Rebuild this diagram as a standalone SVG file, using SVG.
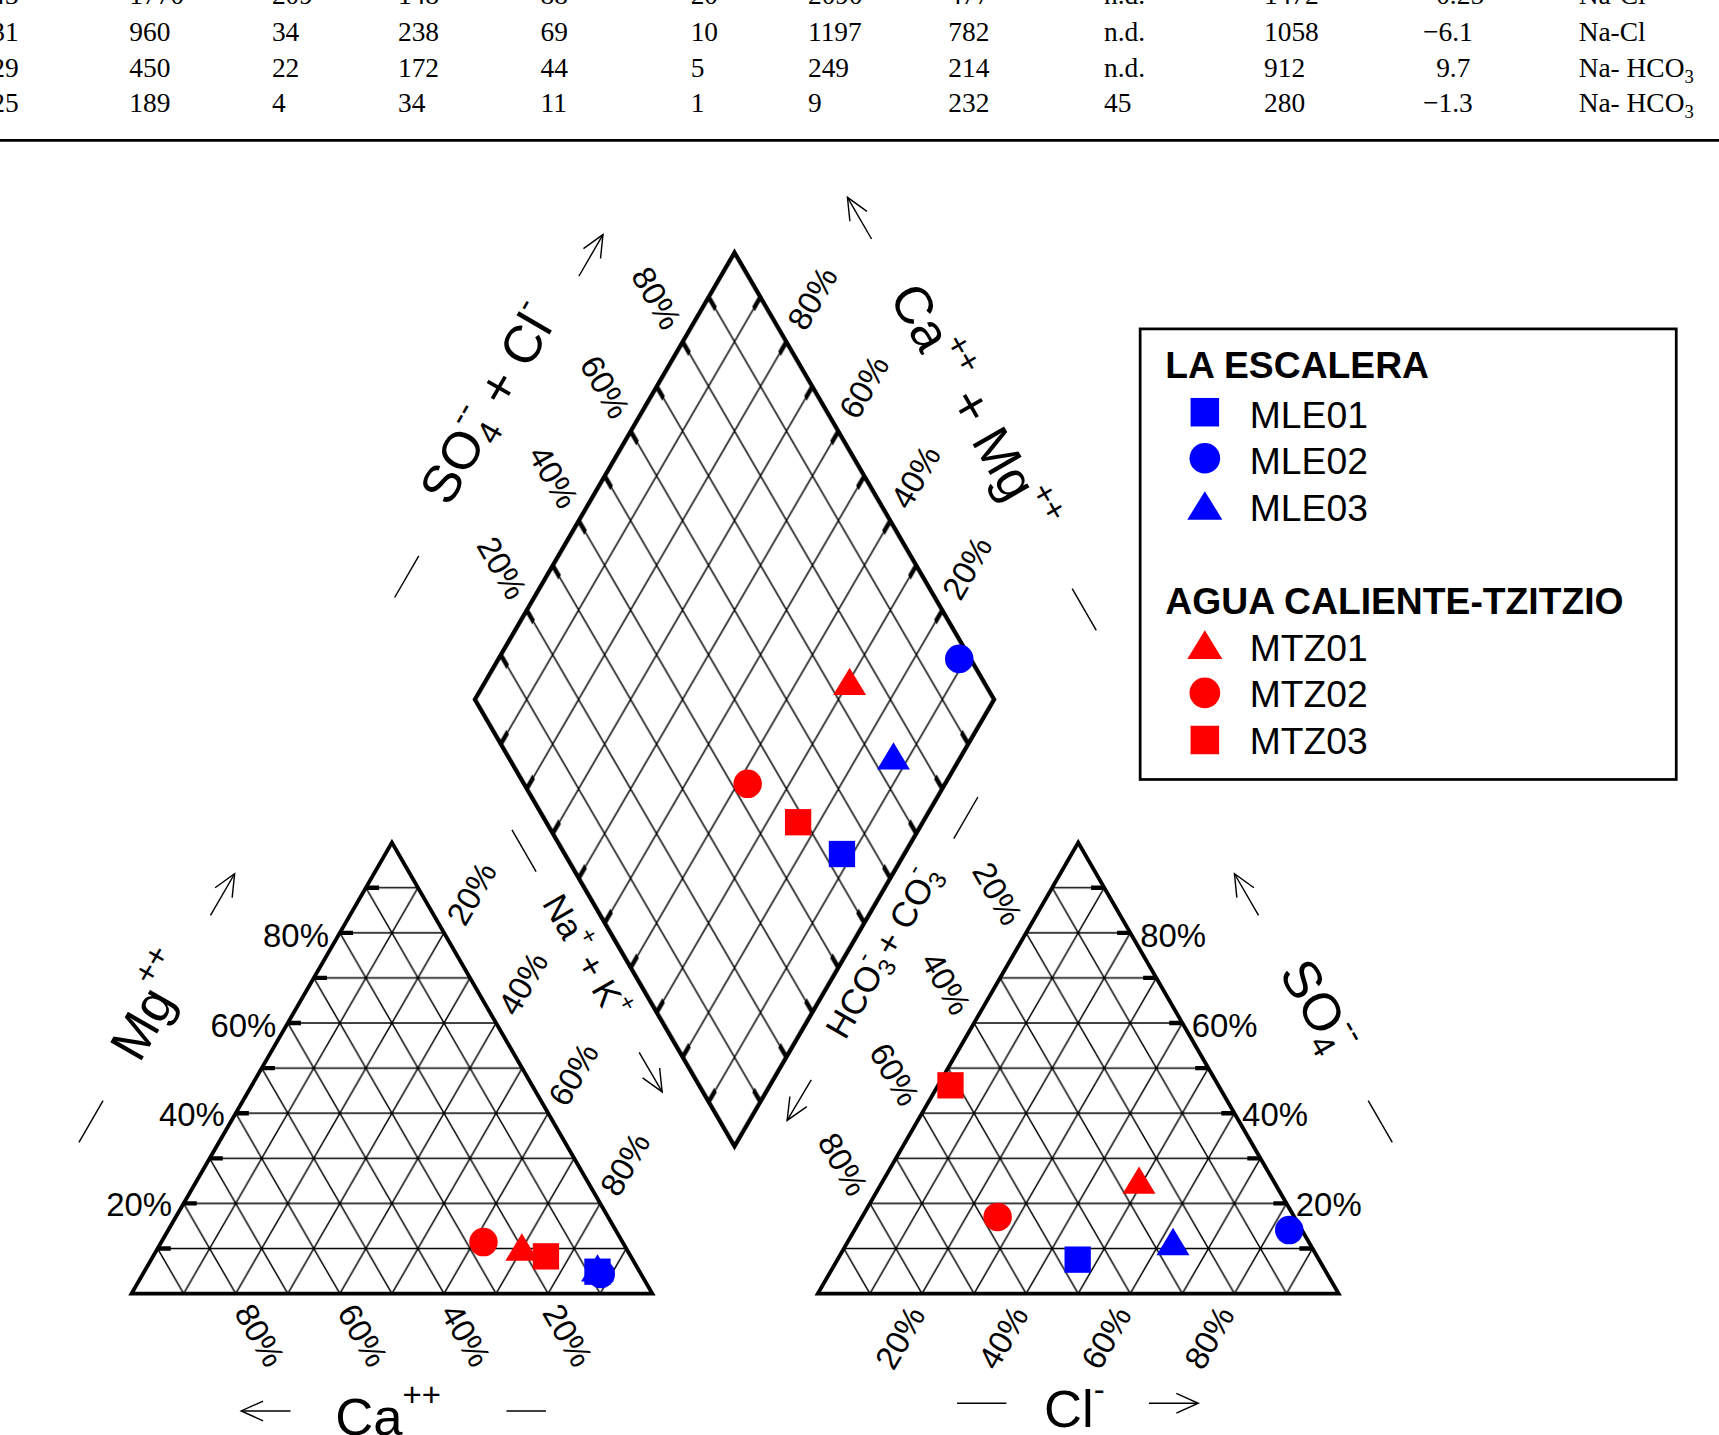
<svg xmlns="http://www.w3.org/2000/svg" width="1719" height="1435" viewBox="0 0 1719 1435">
<style>
.t{font-family:"Liberation Serif",serif;font-size:25px;fill:#000}
.p{font-family:"Liberation Sans",Arial,sans-serif;font-size:30px;fill:#000;text-anchor:middle;dominant-baseline:central}
.big{font-family:"Liberation Sans",Arial,sans-serif;font-size:48px;fill:#000;text-anchor:middle;dominant-baseline:central}
.lg{font-family:"Liberation Sans",Arial,sans-serif;font-size:34px;fill:#000}
.lgb{font-family:"Liberation Sans",Arial,sans-serif;font-size:34px;font-weight:bold;fill:#000}
.out{fill:none;stroke:#000;stroke-width:3.5;stroke-linejoin:miter}
.tk{fill:none;stroke:#000;stroke-width:4}
.b{fill:#0000ff}.r{fill:#ff0000}
</style>
<defs>
<marker id="ah" markerUnits="userSpaceOnUse" markerWidth="30" markerHeight="30" orient="auto" overflow="visible" refX="0" refY="0" viewBox="-25 -15 30 30">
<path d="M-20,-9 L0,0 L-20,9" fill="none" stroke="#000" stroke-width="1.3"/>
</marker>
<pattern id="pL" patternUnits="userSpaceOnUse" x="120" y="1180" width="47.5" height="82.28"><path d="M0,0H47.5M0,41.14H47.5M0,82.28H47.5M0,0L47.5,82.28M0,82.28L47.5,0" stroke="#000" stroke-width="1.3" fill="none"/></pattern>
<pattern id="pR" patternUnits="userSpaceOnUse" x="746" y="1180" width="47.5" height="82.28"><path d="M0,0H47.5M0,41.14H47.5M0,82.28H47.5M0,0L47.5,82.28M0,82.28L47.5,0" stroke="#000" stroke-width="1.3" fill="none"/></pattern>
<pattern id="pD" patternUnits="userSpaceOnUse" x="670" y="230" width="47.4" height="81.6"><path d="M0,0L47.4,81.6M0,81.6L47.4,0" stroke="#000" stroke-width="1.3" fill="none"/></pattern>
<pattern id="pDt" patternUnits="userSpaceOnUse" x="670" y="230" width="47.4" height="81.6"><path d="M0,0L47.4,81.6M0,81.6L47.4,0" stroke="#000" stroke-width="4" fill="none"/></pattern>
<clipPath id="cL"><polygon points="120,1180 595,1180 357.5,768.6"/></clipPath>
<clipPath id="cR"><polygon points="746,1180 1221,1180 983.5,768.6"/></clipPath>
<clipPath id="cD"><polygon points="670,230 907,638 670,1046 433,638"/></clipPath>
<mask id="mD" maskUnits="userSpaceOnUse" x="0" y="0" width="1719" height="1435"><polygon points="670,230 907,638 670,1046 433,638" fill="none" stroke="#fff" stroke-width="22"/></mask>
</defs>
<rect width="1719" height="1435" fill="#fff"/>
<g transform="scale(1.0963)">
<g id="table" class="t">
<text y="4"><tspan x="-8">43</tspan><tspan x="118">1770</tspan><tspan x="248">209</tspan><tspan x="363">148</tspan><tspan x="493">88</tspan><tspan x="630">20</tspan><tspan x="737">2090</tspan><tspan x="865">477</tspan><tspan x="1007">n.d.</tspan><tspan x="1153">1472</tspan><tspan x="1310">0.25</tspan><tspan x="1440">Na-Cl</tspan></text>
<text y="37"><tspan x="-8">31</tspan><tspan x="118">960</tspan><tspan x="248">34</tspan><tspan x="363">238</tspan><tspan x="493">69</tspan><tspan x="630">10</tspan><tspan x="737">1197</tspan><tspan x="865">782</tspan><tspan x="1007">n.d.</tspan><tspan x="1153">1058</tspan><tspan x="1298">−6.1</tspan><tspan x="1440">Na-Cl</tspan></text>
<text y="70"><tspan x="-8">29</tspan><tspan x="118">450</tspan><tspan x="248">22</tspan><tspan x="363">172</tspan><tspan x="493">44</tspan><tspan x="630">5</tspan><tspan x="737">249</tspan><tspan x="865">214</tspan><tspan x="1007">n.d.</tspan><tspan x="1153">912</tspan><tspan x="1310">9.7</tspan><tspan x="1440">Na- HCO</tspan><tspan font-size="17" dy="6">3</tspan></text>
<text y="102"><tspan x="-8">25</tspan><tspan x="118">189</tspan><tspan x="248">4</tspan><tspan x="363">34</tspan><tspan x="493">11</tspan><tspan x="630">1</tspan><tspan x="737">9</tspan><tspan x="865">232</tspan><tspan x="1007">45</tspan><tspan x="1153">280</tspan><tspan x="1298">−1.3</tspan><tspan x="1440">Na- HCO</tspan><tspan font-size="17" dy="6">3</tspan></text>
<line x1="0" y1="128" x2="1568" y2="128" stroke="#000" stroke-width="2.5"/>
</g>
<g id="left-triangle">
<rect x="100" y="750" width="520" height="450" fill="url(#pL)" clip-path="url(#cL)"/>
<path class="tk" d="M143.75,1138.86h12M167.5,1097.72h12M191.25,1056.58h12M215,1015.44h12M238.75,974.3h12M262.5,933.16h12M286.25,892.02h12M310,850.88h12M333.75,809.74h12"/>
<polygon class="out" points="120,1180 595,1180 357.5,768.6"/>
<g class="p" style="text-anchor:end">
<text x="300" y="853">80%</text><text x="252" y="935">60%</text><text x="205" y="1017">40%</text><text x="157" y="1099">20%</text>
</g>
<text class="p" transform="translate(430,815) rotate(-60)">20%</text>
<text class="p" transform="translate(477,897) rotate(-60)">40%</text>
<text class="p" transform="translate(523,980) rotate(-60)">60%</text>
<text class="p" transform="translate(570,1062) rotate(-60)">80%</text>
<text class="p" transform="translate(237,1218) rotate(60)">80%</text>
<text class="p" transform="translate(331,1218) rotate(60)">60%</text>
<text class="p" transform="translate(425,1218) rotate(60)">40%</text>
<text class="p" transform="translate(518,1218) rotate(60)">20%</text>
<text class="big" x="354" y="1292">Ca<tspan font-size="30" dy="-20">++</tspan></text>
<text class="big" transform="translate(138,918) rotate(-60)">Mg<tspan font-size="30" dy="-20">++</tspan></text>
</g>
<g id="right-triangle">
<rect x="726" y="750" width="520" height="450" fill="url(#pR)" clip-path="url(#cR)"/>
<path class="tk" d="M1197.25,1138.86h-12M1173.5,1097.72h-12M1149.75,1056.58h-12M1126,1015.44h-12M1102.25,974.3h-12M1078.5,933.16h-12M1054.75,892.02h-12M1031,850.88h-12M1007.25,809.74h-12"/>
<polygon class="out" points="746,1180 1221,1180 983.5,768.6"/>
<g class="p" style="text-anchor:start">
<text x="1040" y="853">80%</text><text x="1087" y="935">60%</text><text x="1133" y="1017">40%</text><text x="1182" y="1099">20%</text>
</g>
<text class="p" transform="translate(910,815) rotate(60)">20%</text>
<text class="p" transform="translate(863,897) rotate(60)">40%</text>
<text class="p" transform="translate(816,980) rotate(60)">60%</text>
<text class="p" transform="translate(769,1062) rotate(60)">80%</text>
<text class="p" transform="translate(821,1220) rotate(-60)">20%</text>
<text class="p" transform="translate(915,1220) rotate(-60)">40%</text>
<text class="p" transform="translate(1009,1220) rotate(-60)">60%</text>
<text class="p" transform="translate(1103,1220) rotate(-60)">80%</text>
<text class="big" x="980" y="1285">Cl<tspan font-size="30" dy="-18">-</tspan></text>
<text class="big" transform="translate(1203,918) rotate(60)">SO<tspan font-size="30" dy="14">4</tspan><tspan font-size="30" dx="-16" dy="-32">--</tspan></text>
</g>
<g id="diamond">
<rect x="420" y="220" width="500" height="840" fill="url(#pD)" clip-path="url(#cD)"/>
<rect x="420" y="220" width="500" height="840" fill="url(#pDt)" clip-path="url(#cD)" mask="url(#mD)"/>
<polygon class="out" points="670,230 907,638 670,1046 433,638"/>
<text class="p" transform="translate(599,272) rotate(60)">80%</text>
<text class="p" transform="translate(552,353) rotate(60)">60%</text>
<text class="p" transform="translate(505,435) rotate(60)">40%</text>
<text class="p" transform="translate(458,518) rotate(60)">20%</text>
<text class="p" transform="translate(741,272) rotate(-60)">80%</text>
<text class="p" transform="translate(788,353) rotate(-60)">60%</text>
<text class="p" transform="translate(835,435) rotate(-60)">40%</text>
<text class="p" transform="translate(882,518) rotate(-60)">20%</text>
<text class="big" transform="translate(445,368) rotate(-60)">SO<tspan font-size="30" dy="14">4</tspan><tspan font-size="30" dx="-16" dy="-32">--</tspan><tspan dy="18"> + Cl</tspan><tspan font-size="30" dy="-18">-</tspan></text>
<text class="big" transform="translate(888,372) rotate(60)">Ca<tspan font-size="30" dy="-18">++</tspan><tspan dy="18"> + Mg</tspan><tspan font-size="30" dy="-18">++</tspan></text>
<text class="p" style="font-size:32px" transform="translate(535,872) rotate(60)">Na<tspan font-size="22" dy="-12">+</tspan><tspan dy="12"> + K</tspan><tspan font-size="22" dy="-12">+</tspan></text>
<text class="p" style="font-size:32px" transform="translate(805,868) rotate(-60)">HCO<tspan font-size="22" dy="10">3</tspan><tspan font-size="22" dx="-12" dy="-24">-</tspan><tspan dy="14"> + CO</tspan><tspan font-size="22" dy="10">3</tspan><tspan font-size="22" dx="-12" dy="-24">-</tspan></text>
</g>
<g id="connectors" fill="none" stroke="#000" stroke-width="1.3">
<line x1="528" y1="252" x2="550" y2="214" marker-end="url(#ah)"/>
<line x1="795" y1="218" x2="773" y2="180" marker-end="url(#ah)"/>
<line x1="192" y1="835" x2="214" y2="797" marker-end="url(#ah)"/>
<line x1="1148" y1="835" x2="1126" y2="797" marker-end="url(#ah)"/>
<line x1="583" y1="960" x2="604" y2="996" marker-end="url(#ah)"/>
<line x1="740" y1="985" x2="718" y2="1022" marker-end="url(#ah)"/>
<line x1="265" y1="1287" x2="220" y2="1287" marker-end="url(#ah)"/>
<line x1="1048" y1="1280" x2="1093" y2="1280" marker-end="url(#ah)"/>
<line x1="360" y1="545" x2="382" y2="507"/>
<line x1="978" y1="537" x2="1000" y2="575"/>
<line x1="72" y1="1042" x2="94" y2="1004"/>
<line x1="1248" y1="1004" x2="1270" y2="1042"/>
<line x1="467" y1="757" x2="489" y2="795"/>
<line x1="870" y1="765" x2="892" y2="727"/>
<line x1="462" y1="1287" x2="498" y2="1287"/>
<line x1="873" y1="1280" x2="918" y2="1280"/>
</g>
<g id="points">
<circle class="b" cx="875" cy="601" r="13"/>
<polygon class="r" points="775,609 790,634 760,634"/>
<polygon class="b" points="815,677 830,702 800,702"/>
<circle class="r" cx="682" cy="715" r="13"/>
<rect class="r" x="716" y="738" width="24" height="24"/>
<rect class="b" x="756" y="767" width="24" height="24"/>
<circle class="r" cx="441" cy="1133" r="13"/>
<polygon class="r" points="476,1125 491,1150 461,1150"/>
<rect class="r" x="486" y="1134" width="24" height="24"/>
<polygon class="b" points="545,1144 560,1169 530,1169"/>
<rect class="b" x="533" y="1148" width="24" height="24"/>
<circle class="b" cx="548" cy="1162" r="13"/>
<rect class="r" x="855" y="978" width="24" height="24"/>
<polygon class="r" points="1039,1064 1054,1089 1024,1089"/>
<circle class="r" cx="910" cy="1110" r="13"/>
<rect class="b" x="971" y="1137" width="24" height="24"/>
<polygon class="b" points="1070,1120 1085,1145 1055,1145"/>
<circle class="b" cx="1176" cy="1122" r="13"/>
</g>
<g id="legend">
<rect x="1040" y="300" width="489" height="411" fill="#fff" stroke="#000" stroke-width="2.5"/>
<text class="lgb" x="1063" y="345">LA ESCALERA</text>
<rect class="b" x="1086" y="363" width="26" height="26"/>
<text class="lg" x="1140" y="390">MLE01</text>
<circle class="b" cx="1099" cy="418" r="14"/>
<text class="lg" x="1140" y="432">MLE02</text>
<polygon class="b" points="1099,448 1115,474 1083,474"/>
<text class="lg" x="1140" y="475">MLE03</text>
<text class="lgb" x="1063" y="560">AGUA CALIENTE-TZITZIO</text>
<polygon class="r" points="1099,575 1115,601 1083,601"/>
<text class="lg" x="1140" y="603">MTZ01</text>
<circle class="r" cx="1099" cy="632" r="14"/>
<text class="lg" x="1140" y="645">MTZ02</text>
<rect class="r" x="1086" y="662" width="26" height="26"/>
<text class="lg" x="1140" y="688">MTZ03</text>
</g>
</g>
</svg>
